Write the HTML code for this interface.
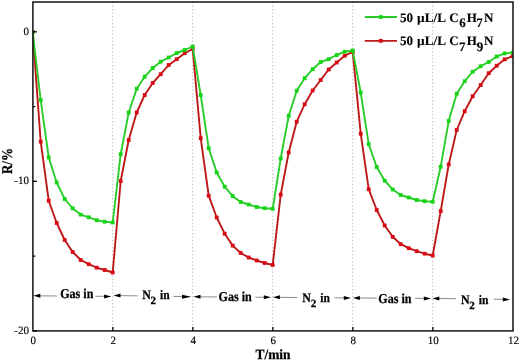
<!DOCTYPE html>
<html><head><meta charset="utf-8"><title>chart</title>
<style>
html,body{margin:0;padding:0;background:#fff;}
body{width:520px;height:361px;overflow:hidden;}
svg{display:block;text-rendering:geometricPrecision;}
.b{font-family:"Liberation Serif","Times New Roman",serif;font-weight:bold;fill:#000;stroke:#000;stroke-width:0.25px;}
.r{font-family:"Liberation Serif","Times New Roman",serif;fill:#000;stroke:#000;stroke-width:0.15px;}
</style></head><body>
<svg width="520" height="361" viewBox="0 0 520 361"><rect width="520" height="361" fill="#fff"/><line x1="112.7" y1="2.0" x2="112.7" y2="330.9" stroke="#b8b8b8" stroke-width="1" stroke-dasharray="1.3,2.2"/><line x1="192.7" y1="2.0" x2="192.7" y2="330.9" stroke="#b8b8b8" stroke-width="1" stroke-dasharray="1.3,2.2"/><line x1="272.7" y1="2.0" x2="272.7" y2="330.9" stroke="#b8b8b8" stroke-width="1" stroke-dasharray="1.3,2.2"/><line x1="352.7" y1="2.0" x2="352.7" y2="330.9" stroke="#b8b8b8" stroke-width="1" stroke-dasharray="1.3,2.2"/><line x1="432.7" y1="2.0" x2="432.7" y2="330.9" stroke="#b8b8b8" stroke-width="1" stroke-dasharray="1.3,2.2"/><line x1="39.3" y1="295.85" x2="57.0" y2="295.98" stroke="#8c8c8c" stroke-width="1"/><line x1="95.4" y1="296.28" x2="105.3" y2="296.35" stroke="#8c8c8c" stroke-width="1"/><path d="M33.3,295.80 L40.3,293.80 L40.3,297.80 Z" fill="#000"/><path d="M111.3,296.40 L104.1,294.40 L104.1,298.40 Z" fill="#000"/><text x="60.2" y="297.9" class="b" font-size="13.6" textLength="33.2" lengthAdjust="spacingAndGlyphs">Gas in</text><line x1="119.5" y1="295.59" x2="137.7" y2="295.87" stroke="#8c8c8c" stroke-width="1"/><line x1="173.5" y1="296.43" x2="185.3" y2="296.61" stroke="#8c8c8c" stroke-width="1"/><path d="M113.5,295.50 L120.5,293.50 L120.5,297.50 Z" fill="#000"/><path d="M191.3,296.70 L182.0,294.70 L182.0,298.70 Z" fill="#000"/><text class="b" font-size="13.0"><tspan x="142.2" y="298.6" textLength="8.6" lengthAdjust="spacingAndGlyphs">N</tspan><tspan x="150.6" y="303.9" font-size="11">2</tspan><tspan x="160.1" y="298.6" textLength="9.6" lengthAdjust="spacingAndGlyphs">in</tspan></text><line x1="199.5" y1="296.84" x2="216.9" y2="296.95" stroke="#8c8c8c" stroke-width="1"/><line x1="255.4" y1="297.20" x2="265.0" y2="297.26" stroke="#8c8c8c" stroke-width="1"/><path d="M193.5,296.80 L200.5,294.80 L200.5,298.80 Z" fill="#000"/><path d="M271.0,297.30 L263.8,295.30 L263.8,299.30 Z" fill="#000"/><text x="218.6" y="301.0" class="b" font-size="13.6" textLength="33.2" lengthAdjust="spacingAndGlyphs">Gas in</text><line x1="278.9" y1="297.35" x2="297.2" y2="297.52" stroke="#8c8c8c" stroke-width="1"/><line x1="334.4" y1="297.85" x2="345.0" y2="297.95" stroke="#8c8c8c" stroke-width="1"/><path d="M272.9,297.30 L279.9,295.30 L279.9,299.30 Z" fill="#000"/><path d="M351.0,298.00 L343.8,296.00 L343.8,300.00 Z" fill="#000"/><text class="b" font-size="13.0"><tspan x="302.3" y="301.5" textLength="8.6" lengthAdjust="spacingAndGlyphs">N</tspan><tspan x="310.7" y="306.8" font-size="11">2</tspan><tspan x="320.2" y="301.5" textLength="9.6" lengthAdjust="spacingAndGlyphs">in</tspan></text><line x1="358.9" y1="298.03" x2="376.9" y2="298.12" stroke="#8c8c8c" stroke-width="1"/><line x1="415.0" y1="298.32" x2="425.0" y2="298.37" stroke="#8c8c8c" stroke-width="1"/><path d="M352.9,298.00 L359.9,296.00 L359.9,300.00 Z" fill="#000"/><path d="M431.0,298.40 L423.8,296.40 L423.8,300.40 Z" fill="#000"/><text x="378.3" y="303.2" class="b" font-size="13.6" textLength="33.2" lengthAdjust="spacingAndGlyphs">Gas in</text><line x1="438.3" y1="298.48" x2="456.1" y2="298.71" stroke="#8c8c8c" stroke-width="1"/><line x1="493.6" y1="299.19" x2="504.0" y2="299.32" stroke="#8c8c8c" stroke-width="1"/><path d="M432.3,298.40 L439.3,296.40 L439.3,300.40 Z" fill="#000"/><path d="M510.0,299.40 L502.8,297.40 L502.8,301.40 Z" fill="#000"/><text class="b" font-size="13.0"><tspan x="460.9" y="303.5" textLength="8.6" lengthAdjust="spacingAndGlyphs">N</tspan><tspan x="469.3" y="308.8" font-size="11">2</tspan><tspan x="478.8" y="303.5" textLength="9.6" lengthAdjust="spacingAndGlyphs">in</tspan></text><defs><clipPath id="pa"><rect x="33.2" y="2" width="479.5" height="329"/></clipPath></defs><g clip-path="url(#pa)"><polyline points="32.7,32.0 40.7,141.7 48.7,200.7 56.7,223.0 64.7,240.0 72.7,252.0 80.7,260.0 88.7,264.2 96.7,267.7 104.7,270.0 112.7,272.5 120.7,181.0 128.7,140.0 136.7,112.5 144.7,95.0 152.7,83.0 160.7,74.2 168.7,65.0 176.7,59.2 184.7,53.2 192.7,49.0 200.7,138.2 208.7,195.7 216.7,217.5 224.7,233.7 232.7,245.6 240.7,253.0 248.7,257.5 256.7,260.5 264.7,263.0 272.7,265.0 280.7,194.7 288.7,152.5 296.7,121.7 304.7,104.2 312.7,90.5 320.7,80.0 328.7,69.5 336.7,62.5 344.7,55.7 352.7,52.0 360.7,133.7 368.7,189.2 376.7,210.0 384.7,225.5 392.7,236.8 400.7,244.2 408.7,248.2 416.7,251.2 424.7,253.7 432.7,255.5 440.7,211.1 448.7,164.5 456.7,130.0 464.7,111.2 472.7,96.2 480.7,85.0 488.7,73.2 496.7,65.7 504.7,59.3 512.7,56.2" fill="none" stroke="#bc1818" stroke-width="1.9" stroke-linejoin="round"/><g fill="#d80a14"><rect x="30.80" y="30.10" width="3.8" height="3.8"/><rect x="38.80" y="139.80" width="3.8" height="3.8"/><rect x="46.80" y="198.80" width="3.8" height="3.8"/><rect x="54.80" y="221.10" width="3.8" height="3.8"/><rect x="62.80" y="238.10" width="3.8" height="3.8"/><rect x="70.80" y="250.10" width="3.8" height="3.8"/><rect x="78.80" y="258.10" width="3.8" height="3.8"/><rect x="86.80" y="262.30" width="3.8" height="3.8"/><rect x="94.80" y="265.80" width="3.8" height="3.8"/><rect x="102.80" y="268.10" width="3.8" height="3.8"/><rect x="110.80" y="270.60" width="3.8" height="3.8"/><rect x="118.80" y="179.10" width="3.8" height="3.8"/><rect x="126.80" y="138.10" width="3.8" height="3.8"/><rect x="134.80" y="110.60" width="3.8" height="3.8"/><rect x="142.80" y="93.10" width="3.8" height="3.8"/><rect x="150.80" y="81.10" width="3.8" height="3.8"/><rect x="158.80" y="72.30" width="3.8" height="3.8"/><rect x="166.80" y="63.10" width="3.8" height="3.8"/><rect x="174.80" y="57.30" width="3.8" height="3.8"/><rect x="182.80" y="51.30" width="3.8" height="3.8"/><rect x="190.80" y="47.10" width="3.8" height="3.8"/><rect x="198.80" y="136.30" width="3.8" height="3.8"/><rect x="206.80" y="193.80" width="3.8" height="3.8"/><rect x="214.80" y="215.60" width="3.8" height="3.8"/><rect x="222.80" y="231.80" width="3.8" height="3.8"/><rect x="230.80" y="243.70" width="3.8" height="3.8"/><rect x="238.80" y="251.10" width="3.8" height="3.8"/><rect x="246.80" y="255.60" width="3.8" height="3.8"/><rect x="254.80" y="258.60" width="3.8" height="3.8"/><rect x="262.80" y="261.10" width="3.8" height="3.8"/><rect x="270.80" y="263.10" width="3.8" height="3.8"/><rect x="278.80" y="192.80" width="3.8" height="3.8"/><rect x="286.80" y="150.60" width="3.8" height="3.8"/><rect x="294.80" y="119.80" width="3.8" height="3.8"/><rect x="302.80" y="102.30" width="3.8" height="3.8"/><rect x="310.80" y="88.60" width="3.8" height="3.8"/><rect x="318.80" y="78.10" width="3.8" height="3.8"/><rect x="326.80" y="67.60" width="3.8" height="3.8"/><rect x="334.80" y="60.60" width="3.8" height="3.8"/><rect x="342.80" y="53.80" width="3.8" height="3.8"/><rect x="350.80" y="50.10" width="3.8" height="3.8"/><rect x="358.80" y="131.80" width="3.8" height="3.8"/><rect x="366.80" y="187.30" width="3.8" height="3.8"/><rect x="374.80" y="208.10" width="3.8" height="3.8"/><rect x="382.80" y="223.60" width="3.8" height="3.8"/><rect x="390.80" y="234.90" width="3.8" height="3.8"/><rect x="398.80" y="242.30" width="3.8" height="3.8"/><rect x="406.80" y="246.30" width="3.8" height="3.8"/><rect x="414.80" y="249.30" width="3.8" height="3.8"/><rect x="422.80" y="251.80" width="3.8" height="3.8"/><rect x="430.80" y="253.60" width="3.8" height="3.8"/><rect x="438.80" y="209.20" width="3.8" height="3.8"/><rect x="446.80" y="162.60" width="3.8" height="3.8"/><rect x="454.80" y="128.10" width="3.8" height="3.8"/><rect x="462.80" y="109.30" width="3.8" height="3.8"/><rect x="470.80" y="94.30" width="3.8" height="3.8"/><rect x="478.80" y="83.10" width="3.8" height="3.8"/><rect x="486.80" y="71.30" width="3.8" height="3.8"/><rect x="494.80" y="63.80" width="3.8" height="3.8"/><rect x="502.80" y="57.40" width="3.8" height="3.8"/><rect x="510.80" y="54.30" width="3.8" height="3.8"/></g><polyline points="32.7,32.0 40.7,100.0 48.7,157.5 56.7,182.5 64.7,199.0 72.7,208.4 80.7,214.6 88.7,217.3 96.7,220.2 104.7,221.7 112.7,222.5 120.7,154.2 128.7,112.5 136.7,88.7 144.7,76.7 152.7,68.0 160.7,61.7 168.7,57.5 176.7,53.0 184.7,50.0 192.7,46.5 200.7,95.0 208.7,148.2 216.7,172.5 224.7,186.7 232.7,196.2 240.7,202.0 248.7,204.5 256.7,207.0 264.7,208.2 272.7,208.8 280.7,158.5 288.7,115.8 296.7,90.7 304.7,78.2 312.7,69.2 320.7,62.0 328.7,59.2 336.7,55.0 344.7,51.7 352.7,50.5 360.7,92.5 368.7,144.2 376.7,167.0 384.7,180.7 392.7,189.5 400.7,195.0 408.7,197.5 416.7,200.0 424.7,201.2 432.7,201.8 440.7,166.7 448.7,121.0 456.7,93.7 464.7,81.2 472.7,71.7 480.7,66.2 488.7,62.0 496.7,56.5 504.7,53.4 512.7,52.6" fill="none" stroke="#2acc2a" stroke-width="1.9" stroke-linejoin="round"/><g fill="#14d414"><rect x="30.80" y="30.10" width="3.8" height="3.8"/><rect x="38.80" y="98.10" width="3.8" height="3.8"/><rect x="46.80" y="155.60" width="3.8" height="3.8"/><rect x="54.80" y="180.60" width="3.8" height="3.8"/><rect x="62.80" y="197.10" width="3.8" height="3.8"/><rect x="70.80" y="206.50" width="3.8" height="3.8"/><rect x="78.80" y="212.70" width="3.8" height="3.8"/><rect x="86.80" y="215.40" width="3.8" height="3.8"/><rect x="94.80" y="218.30" width="3.8" height="3.8"/><rect x="102.80" y="219.80" width="3.8" height="3.8"/><rect x="110.80" y="220.60" width="3.8" height="3.8"/><rect x="118.80" y="152.30" width="3.8" height="3.8"/><rect x="126.80" y="110.60" width="3.8" height="3.8"/><rect x="134.80" y="86.80" width="3.8" height="3.8"/><rect x="142.80" y="74.80" width="3.8" height="3.8"/><rect x="150.80" y="66.10" width="3.8" height="3.8"/><rect x="158.80" y="59.80" width="3.8" height="3.8"/><rect x="166.80" y="55.60" width="3.8" height="3.8"/><rect x="174.80" y="51.10" width="3.8" height="3.8"/><rect x="182.80" y="48.10" width="3.8" height="3.8"/><rect x="190.80" y="44.60" width="3.8" height="3.8"/><rect x="198.80" y="93.10" width="3.8" height="3.8"/><rect x="206.80" y="146.30" width="3.8" height="3.8"/><rect x="214.80" y="170.60" width="3.8" height="3.8"/><rect x="222.80" y="184.80" width="3.8" height="3.8"/><rect x="230.80" y="194.30" width="3.8" height="3.8"/><rect x="238.80" y="200.10" width="3.8" height="3.8"/><rect x="246.80" y="202.60" width="3.8" height="3.8"/><rect x="254.80" y="205.10" width="3.8" height="3.8"/><rect x="262.80" y="206.30" width="3.8" height="3.8"/><rect x="270.80" y="206.90" width="3.8" height="3.8"/><rect x="278.80" y="156.60" width="3.8" height="3.8"/><rect x="286.80" y="113.90" width="3.8" height="3.8"/><rect x="294.80" y="88.80" width="3.8" height="3.8"/><rect x="302.80" y="76.30" width="3.8" height="3.8"/><rect x="310.80" y="67.30" width="3.8" height="3.8"/><rect x="318.80" y="60.10" width="3.8" height="3.8"/><rect x="326.80" y="57.30" width="3.8" height="3.8"/><rect x="334.80" y="53.10" width="3.8" height="3.8"/><rect x="342.80" y="49.80" width="3.8" height="3.8"/><rect x="350.80" y="48.60" width="3.8" height="3.8"/><rect x="358.80" y="90.60" width="3.8" height="3.8"/><rect x="366.80" y="142.30" width="3.8" height="3.8"/><rect x="374.80" y="165.10" width="3.8" height="3.8"/><rect x="382.80" y="178.80" width="3.8" height="3.8"/><rect x="390.80" y="187.60" width="3.8" height="3.8"/><rect x="398.80" y="193.10" width="3.8" height="3.8"/><rect x="406.80" y="195.60" width="3.8" height="3.8"/><rect x="414.80" y="198.10" width="3.8" height="3.8"/><rect x="422.80" y="199.30" width="3.8" height="3.8"/><rect x="430.80" y="199.90" width="3.8" height="3.8"/><rect x="438.80" y="164.80" width="3.8" height="3.8"/><rect x="446.80" y="119.10" width="3.8" height="3.8"/><rect x="454.80" y="91.80" width="3.8" height="3.8"/><rect x="462.80" y="79.30" width="3.8" height="3.8"/><rect x="470.80" y="69.80" width="3.8" height="3.8"/><rect x="478.80" y="64.30" width="3.8" height="3.8"/><rect x="486.80" y="60.10" width="3.8" height="3.8"/><rect x="494.80" y="54.60" width="3.8" height="3.8"/><rect x="502.80" y="51.50" width="3.8" height="3.8"/><rect x="510.80" y="50.70" width="3.8" height="3.8"/></g></g><rect x="32.9" y="2.0" width="480.1" height="328.9" fill="none" stroke="#000" stroke-width="1.4"/><line x1="32.9" y1="31.8" x2="36.9" y2="31.8" stroke="#000" stroke-width="1.3"/><text x="28.9" y="34.7" text-anchor="end" class="r" font-size="11.1" textLength="5.50" lengthAdjust="spacingAndGlyphs">0</text><line x1="32.9" y1="181.3" x2="36.9" y2="181.3" stroke="#000" stroke-width="1.3"/><text x="28.9" y="184.2" text-anchor="end" class="r" font-size="11.1" textLength="14.66" lengthAdjust="spacingAndGlyphs">-10</text><line x1="32.9" y1="330.9" x2="36.9" y2="330.9" stroke="#000" stroke-width="1.3"/><text x="28.9" y="333.8" text-anchor="end" class="r" font-size="11.1" textLength="14.66" lengthAdjust="spacingAndGlyphs">-20</text><line x1="32.9" y1="106.6" x2="35.4" y2="106.6" stroke="#000" stroke-width="1.2"/><line x1="32.9" y1="256.1" x2="35.4" y2="256.1" stroke="#000" stroke-width="1.2"/><text x="33.3" y="343.6" text-anchor="middle" class="r" font-size="11.3" textLength="5.50" lengthAdjust="spacingAndGlyphs">0</text><line x1="112.9" y1="330.9" x2="112.9" y2="326.9" stroke="#000" stroke-width="1.3"/><text x="113.3" y="343.6" text-anchor="middle" class="r" font-size="11.3" textLength="5.50" lengthAdjust="spacingAndGlyphs">2</text><line x1="192.9" y1="330.9" x2="192.9" y2="326.9" stroke="#000" stroke-width="1.3"/><text x="193.3" y="343.6" text-anchor="middle" class="r" font-size="11.3" textLength="5.50" lengthAdjust="spacingAndGlyphs">4</text><line x1="272.9" y1="330.9" x2="272.9" y2="326.9" stroke="#000" stroke-width="1.3"/><text x="273.3" y="343.6" text-anchor="middle" class="r" font-size="11.3" textLength="5.50" lengthAdjust="spacingAndGlyphs">6</text><line x1="352.9" y1="330.9" x2="352.9" y2="326.9" stroke="#000" stroke-width="1.3"/><text x="353.3" y="343.6" text-anchor="middle" class="r" font-size="11.3" textLength="5.50" lengthAdjust="spacingAndGlyphs">8</text><line x1="432.9" y1="330.9" x2="432.9" y2="326.9" stroke="#000" stroke-width="1.3"/><text x="433.3" y="343.6" text-anchor="middle" class="r" font-size="11.3" textLength="11.00" lengthAdjust="spacingAndGlyphs">10</text><text x="513.4" y="343.6" text-anchor="middle" class="r" font-size="11.3" textLength="11.00" lengthAdjust="spacingAndGlyphs">12</text><text x="273" y="358.6" text-anchor="middle" class="b" font-size="14" textLength="35" lengthAdjust="spacingAndGlyphs">T/min</text><text transform="translate(11.5,161.0) rotate(-90)" x="0" y="0" text-anchor="middle" class="b" font-size="15" textLength="26.2" lengthAdjust="spacingAndGlyphs">R/%</text><line x1="364.8" y1="17.0" x2="397.0" y2="17.0" stroke="#2acc2a" stroke-width="1.8"/><rect x="378.9" y="15.1" width="3.8" height="3.8" fill="#14d414"/><text class="b" style="stroke-width:0.12px" font-size="13.0"><tspan x="399.88" y="21.80">50</tspan><tspan x="417.08" y="21.80" textLength="28.9" lengthAdjust="spacingAndGlyphs">µL/L</tspan><tspan x="449.26" y="21.80">C</tspan><tspan x="459.26" y="27.20">6</tspan><tspan x="466.78" y="21.80">H</tspan><tspan x="476.36" y="27.20">7</tspan><tspan x="483.95" y="21.80">N</tspan></text><line x1="364.8" y1="40.8" x2="397.0" y2="40.8" stroke="#bc1818" stroke-width="1.8"/><rect x="378.9" y="38.9" width="3.8" height="3.8" fill="#d80a14"/><text class="b" style="stroke-width:0.12px" font-size="13.0"><tspan x="399.88" y="45.30">50</tspan><tspan x="417.08" y="45.30" textLength="28.9" lengthAdjust="spacingAndGlyphs">µL/L</tspan><tspan x="449.26" y="45.30">C</tspan><tspan x="458.96" y="50.60">7</tspan><tspan x="466.78" y="45.30">H</tspan><tspan x="476.75" y="50.60">9</tspan><tspan x="483.95" y="45.30">N</tspan></text></svg>
</body></html>
